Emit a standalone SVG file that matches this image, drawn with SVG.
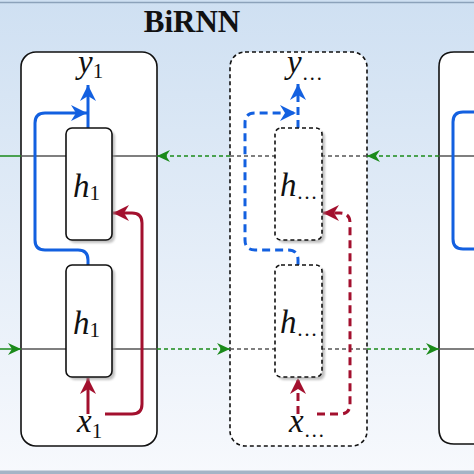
<svg xmlns="http://www.w3.org/2000/svg" width="474" height="474" viewBox="0 0 474 474">
<defs>
<linearGradient id="bg" x1="0" y1="0" x2="0" y2="1">
<stop offset="0" stop-color="#cfe0f2"/>
<stop offset="1" stop-color="#f7f9fd"/>
</linearGradient>
<filter id="sh" x="-20%" y="-20%" width="140%" height="140%"><feGaussianBlur stdDeviation="1"/></filter>
<marker id="ab" viewBox="-17 -9 19 18" refX="0" refY="0" markerWidth="19" markerHeight="18" markerUnits="userSpaceOnUse" orient="auto"><path d="M0,0 L-16,-8 L-11,0 L-16,8 Z" fill="#1360e0"/></marker>
<marker id="ar" viewBox="-17 -9 19 18" refX="0" refY="0" markerWidth="19" markerHeight="18" markerUnits="userSpaceOnUse" orient="auto"><path d="M0,0 L-16,-8 L-11,0 L-16,8 Z" fill="#a3102e"/></marker>
<marker id="ag" viewBox="-14 -7 15 14" refX="0" refY="0" markerWidth="15" markerHeight="14" markerUnits="userSpaceOnUse" orient="auto"><path d="M0,0 L-13,-6 L-9,0 L-13,6 Z" fill="#1a8a1a"/></marker>
</defs>
<style>
.box{fill:#fff;stroke:#111;stroke-width:1.6}
.dbox{fill:#fff;stroke:#111;stroke-width:1.6;stroke-dasharray:4 3}
.sh{fill:#999;opacity:.6;filter:url(#sh)}
.gl{stroke:#555;stroke-width:1.3;fill:none}
.gld{stroke:#555;stroke-width:1.3;fill:none;stroke-dasharray:4 3}
.gr{stroke:#1a8a1a;stroke-width:1.5;fill:none}
.grd{stroke:#1a8a1a;stroke-width:1.5;fill:none;stroke-dasharray:4 3}
.bl{stroke:#1360e0;stroke-width:3;fill:none}
.bld{stroke:#1360e0;stroke-width:3;fill:none;stroke-dasharray:8 5}
.rd{stroke:#a3102e;stroke-width:3;fill:none}
.rdd{stroke:#a3102e;stroke-width:3;fill:none;stroke-dasharray:8 5}
.m{font-family:"Liberation Serif",serif;font-style:italic;font-size:33px;fill:#111}
.s{font-style:normal;font-size:21px}
.t{font-family:"Liberation Serif",serif;font-weight:bold;font-size:31px;fill:#111}
</style>
<rect width="474" height="474" fill="url(#bg)"/>
<line x1="0" y1="2.5" x2="474" y2="2.5" stroke="#8ca2ba" stroke-width="1.5"/>
<rect x="0" y="470.5" width="474" height="3.5" fill="#a4b4c6"/>
<text class="t" x="192" y="32" text-anchor="middle">BiRNN</text>

<g id="col1">
<rect class="box" x="21" y="52" width="136" height="394" rx="15"/>
</g>
<g id="col2">
<rect class="dbox" x="230" y="52" width="137" height="394" rx="15"/>
</g>
<g id="col3">
<path class="box" d="M476,52 H454 Q439,52 439,67 V429 Q439,444 454,444 H476"/>
</g>

<g id="connectors">
<line class="gr" x1="0" y1="156" x2="21" y2="156"/>
<line class="gl" x1="21" y1="156" x2="157" y2="156"/>
<line class="grd" x1="230" y1="156" x2="157" y2="156" marker-end="url(#ag)"/>
<line class="gld" x1="230" y1="156" x2="367" y2="156"/>
<line class="grd" x1="439" y1="156" x2="367" y2="156" marker-end="url(#ag)"/>
<line class="gl" x1="439" y1="156" x2="474" y2="156"/>
<line class="gr" x1="0" y1="349" x2="21" y2="349" marker-end="url(#ag)"/>
<line class="gl" x1="21" y1="349" x2="157" y2="349"/>
<line class="grd" x1="157" y1="349" x2="230" y2="349" marker-end="url(#ag)"/>
<line class="gld" x1="230" y1="349" x2="367" y2="349"/>
<line class="grd" x1="367" y1="349" x2="439" y2="349" marker-end="url(#ag)"/>
<line class="gl" x1="439" y1="349" x2="474" y2="349"/>

<path class="bl" d="M88,128 V85" marker-end="url(#ab)"/>
<path class="bl" d="M88,265 V260 Q88,250 78,250 H45 Q35,250 35,240 V123 Q35,113 45,113 H87" marker-end="url(#ab)"/>
<path class="rd" d="M105,414 H132 Q142,414 142,404 V223 Q142,213 132,213 H113" marker-end="url(#ar)"/>
<path class="rd" d="M88,414 V378" marker-end="url(#ar)"/>

<path class="bld" d="M298,128 V84" marker-end="url(#ab)"/>
<path class="bld" d="M298,265 V260 Q298,250 288,250 H255 Q245,250 245,240 V123 Q245,113 255,113 H296" marker-end="url(#ab)"/>
<path class="rdd" d="M317,414 H340 Q350,414 350,404 V223 Q350,213 340,213 H323" marker-end="url(#ar)"/>
<path class="rdd" d="M298,414 V378" marker-end="url(#ar)"/>

<path class="bl" d="M476,112 H463 Q453,112 453,122 V239 Q453,249 463,249 H476"/>
</g>

<g id="h1a">
<rect class="sh" x="69" y="131" width="46" height="112" rx="6"/>
<rect class="box" x="66" y="128" width="46" height="112" rx="6"/>
<text class="m" x="73" y="197">h<tspan class="s" dy="3">1</tspan></text>
</g>
<g id="h1b">
<rect class="sh" x="69" y="268" width="46" height="112" rx="6"/>
<rect class="box" x="66" y="265" width="46" height="112" rx="6"/>
<text class="m" x="73" y="334">h<tspan class="s" dy="3">1</tspan></text>
</g>
<g id="hma">
<rect class="sh" x="278" y="131" width="47" height="112" rx="6"/>
<rect class="dbox" x="275" y="128" width="47" height="112" rx="6"/>
<text class="m" x="280" y="196">h<tspan class="s" dy="3">…</tspan></text>
</g>
<g id="hmb">
<rect class="sh" x="278" y="268" width="47" height="112" rx="6"/>
<rect class="dbox" x="275" y="265" width="47" height="112" rx="6"/>
<text class="m" x="280" y="333">h<tspan class="s" dy="3">…</tspan></text>
</g>

<g id="labels">
<text class="m" x="78" y="73">y<tspan class="s" dy="5">1</tspan></text>
<text class="m" x="77" y="432">x<tspan class="s" dy="6">1</tspan></text>
<text class="m" x="287" y="73">y<tspan class="s" dy="7">…</tspan></text>
<text class="m" x="289" y="432">x<tspan class="s" dy="5">…</tspan></text>
</g>
</svg>
